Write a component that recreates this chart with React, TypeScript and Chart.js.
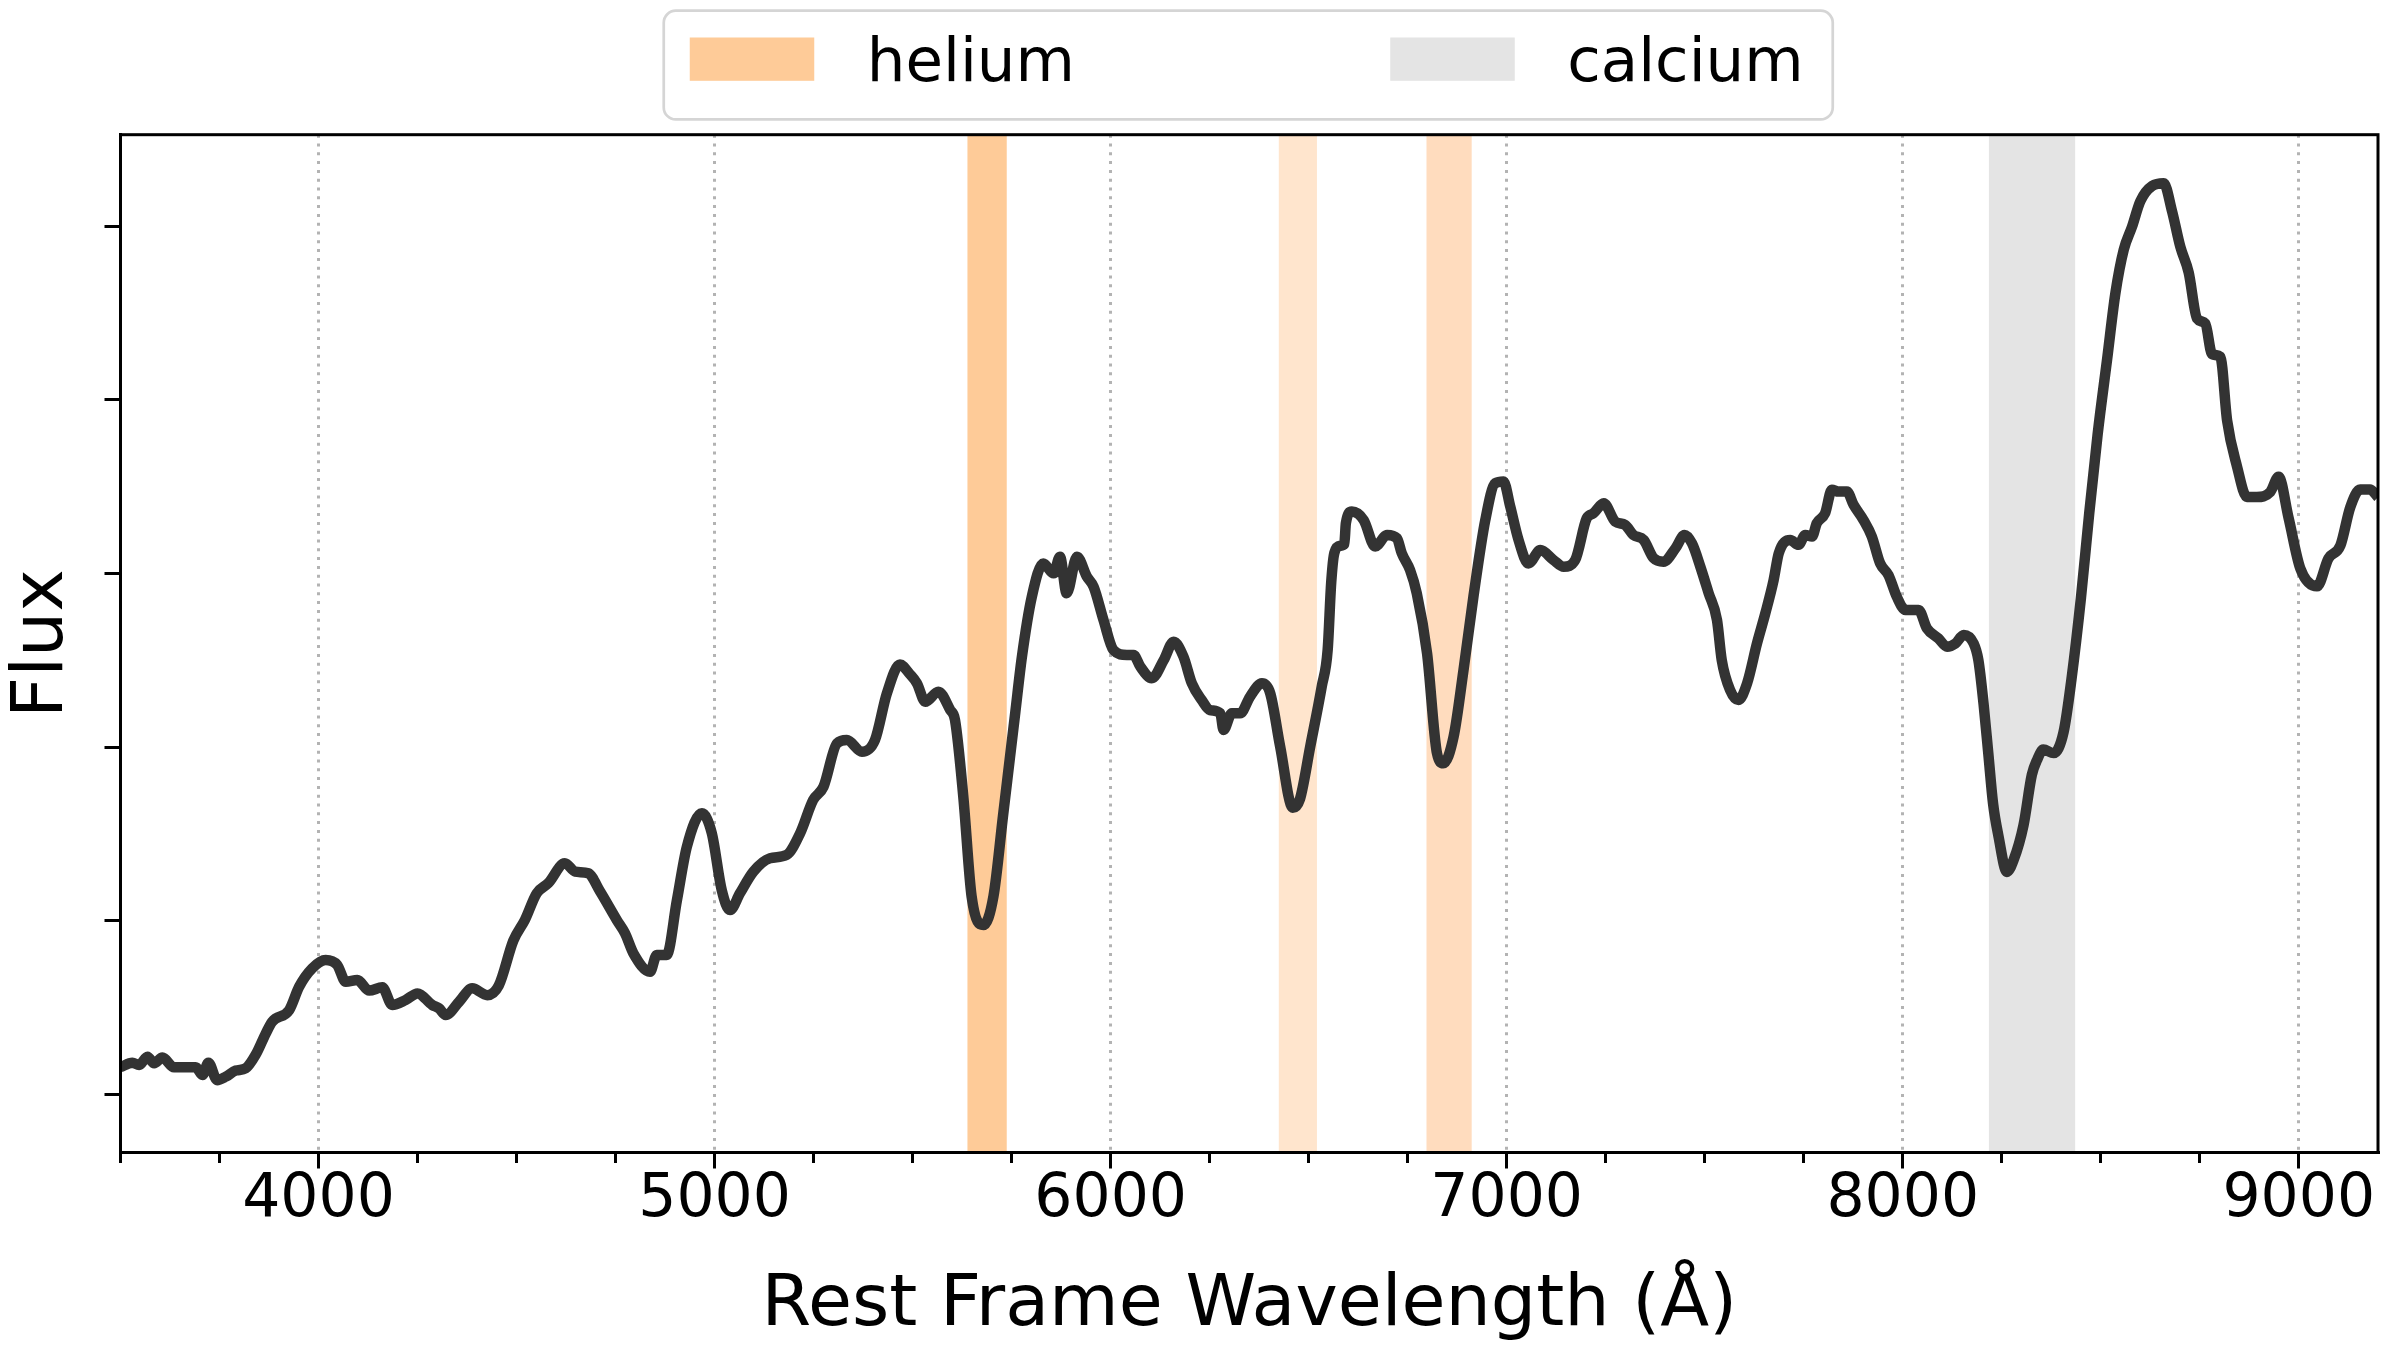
import React, { useEffect, useRef } from 'react';
import { Chart, registerables } from 'chart.js';

Chart.register(...registerables);

const FONT = 'DejaVu Sans';

// Spectrum (rest-frame wavelength in Å, flux in arbitrary units)
const WAVELENGTH = [
  3500, 3530, 3547, 3568, 3585, 3606, 3635, 3690, 3707, 3722, 3744, 3766, 3791, 3816, 3841, 3867, 3883, 3926, 3951, 3984,
  4018, 4047, 4069, 4098, 4128, 4161, 4186, 4220, 4250, 4287, 4304, 4321, 4355, 4388, 4426, 4455, 4492, 4521, 4551, 4580,
  4622, 4648, 4681, 4711, 4753, 4774, 4795, 4837, 4854, 4879, 4905, 4930, 4968, 4993, 5018, 5039, 5064, 5098, 5140, 5182,
  5216, 5249, 5275, 5309, 5334, 5372, 5405, 5435, 5468, 5493, 5511, 5532, 5565, 5595, 5607, 5628, 5649, 5679, 5704, 5729,
  5759, 5776, 5801, 5830, 5856, 5872, 5889, 5915, 5940, 5957, 5982, 6007, 6041, 6058, 6075, 6104, 6134, 6159, 6184, 6205,
  6230, 6251, 6277, 6285, 6306, 6327, 6352, 6382, 6403, 6428, 6460, 6478, 6504, 6533, 6548, 6557, 6565, 6580, 6590, 6594,
  6609, 6639, 6668, 6698, 6723, 6735, 6756, 6773, 6799, 6824, 6840, 6866, 6891, 6916, 6946, 6971, 6992, 7009, 7030, 7055,
  7085, 7118, 7144, 7173, 7202, 7219, 7245, 7274, 7299, 7320, 7346, 7371, 7396, 7426, 7449, 7468, 7489, 7510, 7531, 7543,
  7564, 7585, 7607, 7632, 7653, 7674, 7687, 7716, 7737, 7754, 7771, 7783, 7804, 7821, 7838, 7859, 7876, 7901, 7922, 7943,
  7964, 7985, 8007, 8040, 8061, 8090, 8112, 8133, 8154, 8179, 8191, 8204, 8216, 8228, 8242, 8263, 8280, 8305, 8326, 8339,
  8355, 8381, 8406, 8426, 8450, 8471, 8492, 8516, 8537, 8558, 8579, 8600, 8630, 8659, 8680, 8701, 8722, 8743, 8764, 8781,
  8802, 8819, 8844, 8869, 8894, 8928, 8949, 8974, 9004, 9046, 9075, 9105, 9130, 9155, 9180, 9200,
];

const FLUX = [
  1.155, 1.18, 1.167, 1.215, 1.177, 1.21, 1.154, 1.154, 1.11, 1.18, 1.08, 1.1, 1.135, 1.148, 1.225, 1.35, 1.417, 1.484, 1.618, 1.724,
  1.772, 1.744, 1.647, 1.657, 1.596, 1.615, 1.513, 1.542, 1.58, 1.513, 1.494, 1.455, 1.532, 1.609, 1.57, 1.625, 1.885, 2.003, 2.157, 2.215,
  2.33, 2.282, 2.272, 2.167, 2.003, 1.926, 1.811, 1.705, 1.801, 1.801, 2.118, 2.425, 2.618, 2.503, 2.176, 2.06, 2.157, 2.282, 2.359, 2.378,
  2.503, 2.695, 2.771, 3.021, 3.04, 2.973, 3.04, 3.309, 3.475, 3.42, 3.367, 3.261, 3.319, 3.213, 3.156, 2.714, 2.138, 1.974, 2.138, 2.618,
  3.194, 3.52, 3.866, 4.058, 4.001, 4.097, 3.886, 4.097, 3.982, 3.924, 3.732, 3.559, 3.53, 3.53, 3.463, 3.396, 3.501, 3.607, 3.52, 3.367,
  3.271, 3.213, 3.194, 3.098, 3.194, 3.194, 3.29, 3.367, 3.309, 3.003, 2.65, 2.7, 3.003, 3.348, 3.56, 3.95, 4.12, 4.16, 4.17, 4.29,
  4.357, 4.308, 4.155, 4.222, 4.203, 4.117, 4.02, 3.886, 3.54, 2.964, 2.906, 3.06, 3.444, 3.866, 4.308, 4.52, 4.53, 4.386, 4.193, 4.058,
  4.135, 4.078, 4.039, 4.078, 4.318, 4.347, 4.405, 4.299, 4.28, 4.222, 4.193, 4.088, 4.068, 4.145, 4.222, 4.173, 4.039, 3.886, 3.732, 3.501,
  3.329, 3.271, 3.367, 3.597, 3.77, 3.962, 4.117, 4.193, 4.165, 4.222, 4.213, 4.29, 4.347, 4.482, 4.472, 4.472, 4.395, 4.308, 4.213, 4.058,
  3.991, 3.866, 3.79, 3.79, 3.684, 3.626, 3.578, 3.597, 3.646, 3.597, 3.501, 3.251, 2.964, 2.675, 2.483, 2.28, 2.349, 2.55, 2.84, 2.925,
  2.985, 2.965, 3.085, 3.39, 3.86, 4.35, 4.8, 5.234, 5.616, 5.866, 5.999, 6.146, 6.234, 6.249, 6.088, 5.882, 5.735, 5.47, 5.44, 5.264,
  5.249, 4.882, 4.617, 4.441, 4.441, 4.47, 4.558, 4.323, 4.028, 3.926, 4.087, 4.161, 4.382, 4.484, 4.484, 4.44,
];

// Shaded line regions
const HELIUM_START = [5638, 6424, 6797];
const HELIUM_END = [5738, 6521, 6912];
const HELIUM_COLORS = ['#fecb98', '#ffe5cd', '#ffdcbe'];
const CALCIUM_START = [8217];
const CALCIUM_END = [8436];
const CALCIUM_COLOR = '#e4e4e4';

const LEGEND_LABELS = ['helium', 'calcium'];
const LEGEND_COLORS = [HELIUM_COLORS[0], CALCIUM_COLOR];

// Axes
const X_MIN = 3500;
const X_MAX = 9200;
const Y_MIN = 0.663;
const Y_MAX = 6.529;
const X_MAJOR_TICKS = [4000, 5000, 6000, 7000, 8000, 9000];
const X_MINOR_TICKS = [3500, 3750, 4250, 4500, 4750, 5250, 5500, 5750, 6250, 6500, 6750, 7250, 7500, 7750, 8250, 8500, 8750];
const Y_TICKS = [1, 2, 3, 4, 5, 6];

const isMajor = (ctx: any) => !!(ctx && ctx.tick && X_MAJOR_TICKS.includes(ctx.tick.value));

const bandDataset = (start: number, end: number, color: string, label: string) => ({
  type: 'line' as const,
  label,
  data: [
    { x: start, y: Y_MAX },
    { x: end, y: Y_MAX },
  ],
  borderWidth: 0,
  borderColor: 'rgba(0,0,0,0)',
  backgroundColor: color,
  pointRadius: 0,
  fill: 'start',
  tension: 0,
  clip: 0,
  order: 2,
});

const framePlugin = {
  id: 'frame',
  afterDraw(chart: any) {
    const { ctx, chartArea } = chart;
    ctx.save();
    ctx.strokeStyle = '#000';
    ctx.lineWidth = 3;
    ctx.strokeRect(chartArea.left, chartArea.top, chartArea.right - chartArea.left, chartArea.bottom - chartArea.top);
    ctx.restore();
  },
};

const boxLegendPlugin = {
  id: 'boxLegend',
  afterDraw(chart: any) {
    const { ctx, chartArea } = chart;
    const cx = (chartArea.left + chartArea.right) / 2;
    const bx = cx - 585.5;
    const by = 10.7;
    const bw = 1169;
    const bh = 108.7;
    ctx.save();
    ctx.beginPath();
    if (ctx.roundRect) ctx.roundRect(bx, by, bw, bh, 12);
    else ctx.rect(bx, by, bw, bh);
    ctx.fillStyle = 'rgba(255,255,255,0.8)';
    ctx.fill();
    ctx.lineWidth = 2.7;
    ctx.strokeStyle = '#d5d5d5';
    ctx.stroke();
    const itemStep = 700.5;
    LEGEND_LABELS.forEach((label, i) => {
      const sx = bx + 26 + i * itemStep;
      ctx.fillStyle = LEGEND_COLORS[i];
      ctx.fillRect(sx, by + 26.8, 124.5, 43.3);
      ctx.fillStyle = '#000';
      ctx.font = `61px "${FONT}"`;
      ctx.textBaseline = 'alphabetic';
      ctx.textAlign = 'left';
      ctx.fillText(label, sx + 177, by + 70.1);
    });
    ctx.restore();
  },
};

export default function App() {
  const canvasRef = useRef<HTMLCanvasElement | null>(null);

  useEffect(() => {
    const canvas = canvasRef.current;
    if (!canvas) return;
    Chart.defaults.font.family = FONT;

    const datasets: any[] = [
      {
        type: 'line',
        label: 'spectrum',
        data: WAVELENGTH.map((x, i) => ({ x, y: FLUX[i] })),
        borderColor: '#333333',
        borderWidth: 10.5,
        pointRadius: 0,
        fill: false,
        cubicInterpolationMode: 'monotone',
        borderJoinStyle: 'round',
        borderCapStyle: 'butt',
        clip: 0,
        order: 0,
      },
      ...HELIUM_START.map((s, i) => bandDataset(s, HELIUM_END[i], HELIUM_COLORS[i], 'helium')),
      ...CALCIUM_START.map((s, i) => bandDataset(s, CALCIUM_END[i], CALCIUM_COLOR, 'calcium')),
    ];

    const chart = new Chart(canvas, {
      type: 'line',
      data: { datasets },
      options: {
        animation: false,
        responsive: false,
        devicePixelRatio: 1,
        events: [],
        parsing: false as any,
        layout: { padding: { top: 134.7, right: 22, left: 0, bottom: 0 } },
        plugins: {
          legend: { display: false },
          tooltip: { enabled: false },
        },
        scales: {
          x: {
            type: 'linear',
            min: X_MIN,
            max: X_MAX,
            afterBuildTicks: (s: any) => {
              s.ticks = [...X_MINOR_TICKS, ...X_MAJOR_TICKS].sort((a, b) => a - b).map((v) => ({ value: v }));
            },
            afterFit: (s: any) => {
              s.height = 197.5;
            },
            ticks: {
              autoSkip: false,
              maxRotation: 0,
              minRotation: 0,
              padding: 2,
              color: '#000',
              font: { family: FONT, size: 60, lineHeight: 1 },
              callback: (v: any) => (X_MAJOR_TICKS.includes(Number(v)) ? String(v) : ''),
            },
            grid: {
              color: (ctx: any) => (isMajor(ctx) ? '#b3b3b3' : 'rgba(0,0,0,0)'),
              lineWidth: 3,
              tickColor: '#000',
              tickWidth: 3,
              tickLength: 16,
              tickBorderDash: (ctx: any) => (isMajor(ctx) ? [] : [9, 100]),
            },
            border: { display: true, color: '#000', width: 3, dash: [3, 5.8] },
            title: {
              display: true,
              text: 'Rest Frame Wavelength (Å)',
              color: '#000',
              font: { family: FONT, size: 71.5, lineHeight: 1 },
              padding: { top: 0, bottom: 8 },
            },
          },
          y: {
            type: 'linear',
            min: Y_MIN,
            max: Y_MAX,
            afterBuildTicks: (s: any) => {
              s.ticks = Y_TICKS.map((v) => ({ value: v }));
            },
            afterFit: (s: any) => {
              s.width = 120.5;
            },
            ticks: { callback: () => '', padding: 0 },
            grid: {
              drawOnChartArea: false,
              tickColor: '#000',
              tickWidth: 3,
              tickLength: 16,
            },
            border: { display: true, color: '#000', width: 3 },
            title: {
              display: true,
              text: 'Flux',
              color: '#000',
              font: { family: FONT, size: 71.5, lineHeight: 1 },
              padding: { top: 8, bottom: 0 },
            },
          },
        },
      } as any,
      plugins: [framePlugin, boxLegendPlugin],
    });

    return () => {
      chart.destroy();
    };
  }, []);

  return (
    <div style={{ position: 'absolute', left: 0, top: 0, width: 2400, height: 1350, background: '#fff' }}>
      <canvas ref={canvasRef} width={2400} height={1350} style={{ display: 'block', width: 2400, height: 1350 }} />
    </div>
  );
}
